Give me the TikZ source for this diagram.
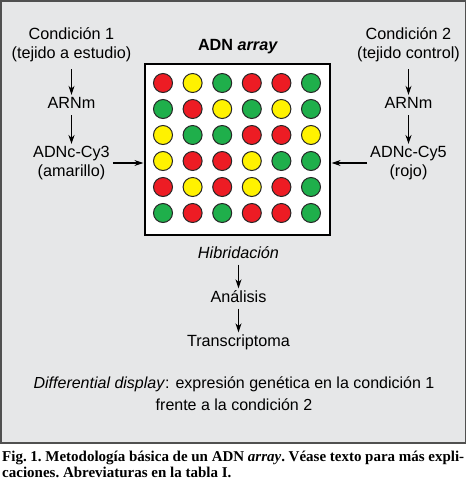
\documentclass[tikz,border=0pt]{standalone}
\usepackage{fontspec}
\setmainfont{Liberation Serif}
\setsansfont{Liberation Sans}
\usetikzlibrary{positioning,arrows.meta,calc}
\definecolor{fondo}{HTML}{E6E7E8}
\definecolor{borde}{HTML}{505050}
\definecolor{rojo}{HTML}{ED1C24}
\definecolor{amar}{HTML}{FFF200}
\definecolor{verde}{HTML}{1FAF4B}
\tikzset{
  paso/.style={align=center,inner sep=1pt,font=\sffamily\fontsize{16.2}{19}\selectfont},
  uno/.style={paso,text height=11.5pt,text depth=3.5pt,anchor=base},
  punto/.style={circle,draw=black!85,line width=1pt,minimum size=19pt,inner sep=0pt},
  ptr/.style={-{Stealth[length=9pt,width=6pt]},line width=1.1pt,shorten <=2pt,shorten >=1pt},
}

\begin{document}
\begin{tikzpicture}[x=1pt,y=-1pt]
  \useasboundingbox (0,0) rectangle (467,480);
  % marco gris
  \draw[borde,fill=fondo,line width=1.2pt] (1,1) rectangle (465.5,443);
  % el array
  \node[draw=black,fill=white,line width=1.2pt,minimum width=185pt,minimum height=171pt,inner sep=0pt]
       (array) at (237.5,149.5) {};
  \node[paso,font=\sffamily\bfseries\fontsize{16.2}{19}\selectfont] (titulo) at (238,47) {ADN \textit{array}};
  \foreach \fila/\cols in {1/{rojo,amar,verde,rojo,rojo,verde},
                           2/{verde,rojo,amar,verde,amar,verde},
                           3/{amar,verde,verde,rojo,rojo,amar},
                           4/{amar,rojo,rojo,amar,verde,verde},
                           5/{rojo,amar,rojo,amar,rojo,verde},
                           6/{verde,rojo,verde,rojo,rojo,verde}}
    \foreach \c [count=\k] in \cols
      \node[punto,fill=\c] (p-\fila-\k) at ({163+29.6*(\k-1)},{83+26*(\fila-1)}) {};
  % condicion 1
  \node[paso] (cond1) at (71.5,45) {Condición 1\\(tejido a estudio)};
  \node[uno] (arnm1) at (71.5,108.5) {ARNm};
  \node[paso] (adnc1) at (71.5,163) {ADNc-Cy3\\(amarillo)};
  \draw[ptr,shorten <=6pt] (cond1) -- (arnm1);
  \draw[ptr] (arnm1) -- (adnc1);
  \draw[ptr] (adnc1.east) -- (adnc1.east -| array.west);
  % condicion 2
  \node[paso] (cond2) at (408.5,45) {Condición 2\\(tejido control)};
  \node[uno] (arnm2) at (408.5,108.5) {ARNm};
  \node[paso] (adnc2) at (408.5,163) {ADNc-Cy5\\(rojo)};
  \draw[ptr,shorten <=6pt] (cond2) -- (arnm2);
  \draw[ptr] (arnm2) -- (adnc2);
  \draw[ptr] (adnc2.west) -- (adnc2.west -| array.east);
  % despues del array
  \node[uno] (hibr) at (238.5,258) {\textit{Hibridación}};
  \node[uno] (anal) at (238.5,302) {Análisis};
  \node[uno] (trans) at (238.5,346) {Transcriptoma};
  \draw[ptr] (hibr) -- (anal);
  \draw[ptr] (anal) -- (trans);
  \node[paso,font=\sffamily\fontsize{16}{22}\selectfont] (dd) at (234,394)
       {\textit{Differential display}: expresión genética en la condición 1\\frente a la condición 2};
  % pie de figura
  \node[anchor=north west,text width=462pt,align=justify,inner sep=0pt,
        font=\rmfamily\bfseries\fontsize{15}{16.5}\selectfont] (pie) at (2,450.5)
       {\frenchspacing Fig. 1. Metodología básica de un ADN \textit{array}. Véase texto para más expli-\linebreak caciones. Abreviaturas en la tabla I.};
\end{tikzpicture}
\end{document}
